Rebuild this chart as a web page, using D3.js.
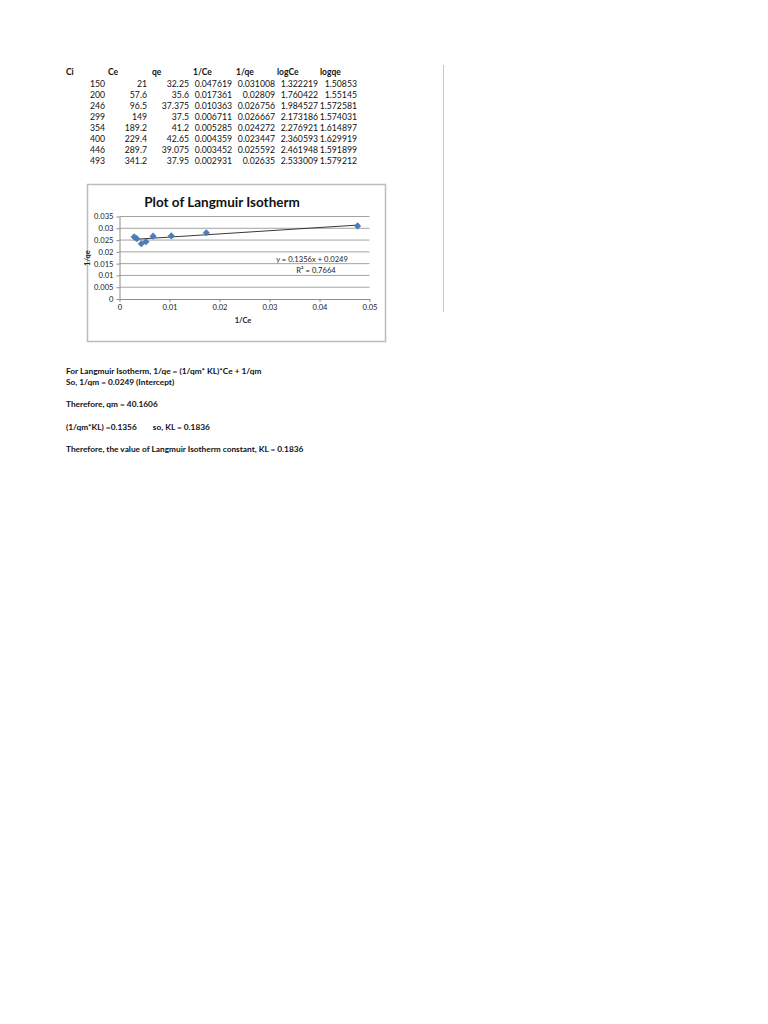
<!DOCTYPE html>
<html><head><meta charset="utf-8">
<script src="https://cdn.jsdelivr.net/npm/d3@7"></script>
<style>body{margin:0;background:#fff;} svg{display:block;}</style>
</head><body>
<svg id="c" width="768" height="1024"></svg>
<script>
const headers = ["Ci","Ce","qe","1/Ce","1/qe","logCe","logqe"];
const Ci = [150,200,246,299,354,400,446,493];
const Ce = ["21","57.6","96.5","149","189.2","229.4","289.7","341.2"];
const qe = ["32.25","35.6","37.375","37.5","41.2","42.65","39.075","37.95"];
const invCe = [0.047619,0.017361,0.010363,0.006711,0.005285,0.004359,0.003452,0.002931];
const invQe = [0.031008,0.02809,0.026756,0.026667,0.024272,0.023447,0.025592,0.02635];
const logCe = ["1.322219","1.760422","1.984527","2.173186","2.276921","2.360593","2.461948","2.533009"];
const logqe = ["1.50853","1.55145","1.572581","1.574031","1.614897","1.629919","1.591899","1.579212"];
const xTicks = [0,0.01,0.02,0.03,0.04,0.05];
const yTicks = [0,0.005,0.01,0.015,0.02,0.025,0.03,0.035];
const slope = 0.1356, intercept = 0.0249, r2 = "0.7664";
const notes = [
 "For Langmuir Isotherm, 1/qe = (1/qm* KL)*Ce + 1/qm",
 "So, 1/qm = 0.0249 (Intercept)",
 "",
 "Therefore, qm = 40.1606",
 "",
 "(1/qm*KL) =0.1356        so, KL = 0.1836",
 "",
 "Therefore, the value of Langmuir Isotherm constant, KL = 0.1836"
];

const svg = d3.select("#c");
const font = "Lato, 'Open Sans', sans-serif";

// Table
const hx = [66,108,152,193,236,277,320];
const rx = [105,147,189,232,275,318,357];
svg.selectAll("text.h").data(headers).join("text")
  .attr("x",(d,i)=>hx[i]).attr("y",75).text(d=>d)
  .attr("font-family",font).attr("font-size",8.5).attr("font-weight","bold").attr("fill","#111");
const rows = Ci.map((c,i)=>[String(c),Ce[i],qe[i],String(invCe[i]),String(invQe[i]),logCe[i],logqe[i]]);
rows.forEach((r,ri)=>{
  svg.append("g").selectAll("text").data(r).join("text")
    .attr("x",(d,i)=>rx[i]).attr("y",87+ri*11).attr("text-anchor","end").text(d=>d)
    .attr("font-family",font).attr("font-size",8.7).attr("fill","#111");
});

// vertical separator
svg.append("line").attr("x1",443.5).attr("x2",443.5).attr("y1",65).attr("y2",312).attr("stroke","#c8c8c8").attr("stroke-width",1);

// Chart box
svg.append("rect").attr("x",87.5).attr("y",184.5).attr("width",298).attr("height",157)
  .attr("fill","#fff").attr("stroke","#bdbdbd").attr("stroke-width",1.5);

svg.append("text").attr("x",222).attr("y",207).attr("text-anchor","middle")
  .attr("font-family",font).attr("font-weight","bold").attr("font-size",13.5).attr("fill","#111")
  .text("Plot of Langmuir Isotherm");

const x = d3.scaleLinear().domain([0,0.05]).range([119.5,369.5]);
const y = d3.scaleLinear().domain([0,0.035]).range([299,216.5]);

// gridlines
svg.append("g").selectAll("line").data(yTicks.filter(d=>d>0)).join("line")
  .attr("x1",x(0)).attr("x2",x(0.05)).attr("y1",d=>y(d)).attr("y2",d=>y(d))
  .attr("stroke","#8c8c8c").attr("stroke-width",0.8);

const fmt = d=> d===0 ? "0" : String(+d.toFixed(3));
const ya = svg.append("g").attr("transform",`translate(${x(0)},0)`)
  .call(d3.axisLeft(y).tickValues(yTicks).tickFormat(fmt).tickSize(3).tickSizeOuter(0));
const xa = svg.append("g").attr("transform",`translate(0,${y(0)})`)
  .call(d3.axisBottom(x).tickValues(xTicks).tickFormat(fmt).tickSize(3).tickSizeOuter(0));
[ya,xa].forEach(a=>{
  a.selectAll("path,line").attr("stroke","#8c8c8c");
  a.selectAll("text").attr("font-family",font).attr("font-size",7.6).attr("fill","#222");
});
ya.selectAll("text").attr("x",-6);
xa.selectAll("text").attr("y",6);

// axis titles
svg.append("text").attr("transform",`translate(90,258) rotate(-90)`).attr("text-anchor","middle")
  .attr("font-family",font).attr("font-size",7.5).attr("font-weight","bold").attr("fill","#222").text("1/qe");
svg.append("text").attr("x",243).attr("y",323).attr("text-anchor","middle")
  .attr("font-family",font).attr("font-size",7.5).attr("font-weight","bold").attr("fill","#222").text("1/Ce");

// trendline
const xmin = d3.min(invCe), xmax = d3.max(invCe);
svg.append("line").attr("x1",x(xmin)).attr("y1",y(slope*xmin+intercept))
  .attr("x2",x(xmax)).attr("y2",y(slope*xmax+intercept)).attr("stroke","#222").attr("stroke-width",0.9);

// points (square rotated 45° = Excel diamond)
const diamond = d3.symbol().type(d3.symbolSquare).size(22);
svg.append("g").selectAll("path").data(invCe.map((v,i)=>[v,invQe[i]])).join("path")
  .attr("d",diamond).attr("transform",d=>`translate(${x(d[0])},${y(d[1])}) rotate(45)`)
  .attr("fill","#4a7ebb").attr("stroke","#3d6da6").attr("stroke-width",0.4);

// equation
svg.append("text").attr("x",312).attr("y",262).attr("text-anchor","middle")
  .attr("font-family",font).attr("font-size",7.6).attr("fill","#222")
  .text(`y = ${slope}x + ${intercept}`);
svg.append("text").attr("x",316).attr("y",272.5).attr("text-anchor","middle")
  .attr("font-family",font).attr("font-size",7.6).attr("fill","#222")
  .text("R² = " + r2);

// notes
svg.append("g").selectAll("text").data(notes).join("text")
  .attr("x",66).attr("y",(d,i)=>374+i*11.1).text(d=>d)
  .style("white-space","pre")
  .attr("font-family",font).attr("font-size",8.3).attr("font-weight","bold").attr("fill","#111");
</script>
</body></html>
